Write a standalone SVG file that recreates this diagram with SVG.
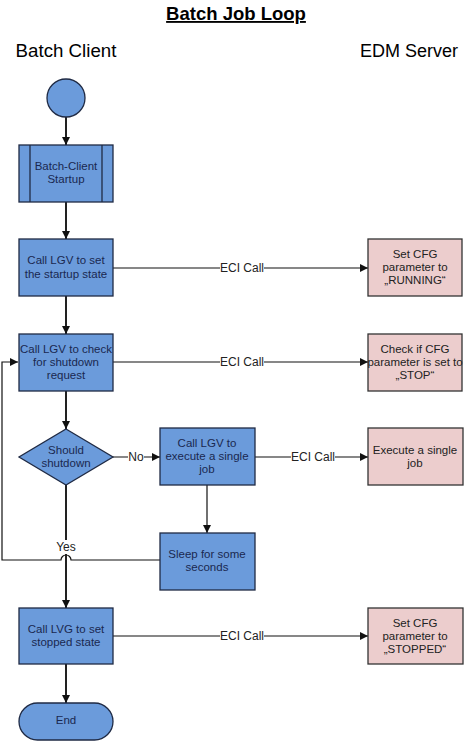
<svg xmlns="http://www.w3.org/2000/svg" width="467" height="741" viewBox="0 0 467 741">
<defs>
<style>
.t{font-family:"Liberation Sans",Arial,sans-serif}
.blue{fill:#6b9bdb;stroke:#1f2a44;stroke-width:1.3}
.pink{fill:#eccdcd;stroke:#333;stroke-width:1.3}
.bt{font-family:"Liberation Sans",Arial,sans-serif;font-size:11.5px;fill:#1a2850;text-anchor:middle}
.pt{font-family:"Liberation Sans",Arial,sans-serif;font-size:11.5px;fill:#222;text-anchor:middle}
.v{stroke:#222;stroke-width:2;fill:none}
.h{stroke:#111;stroke-width:1.2;fill:none}
.lbl{font-family:"Liberation Sans",Arial,sans-serif;font-size:12px;fill:#222;text-anchor:middle}
</style>
<marker id="ah" viewBox="0 0 10 10" refX="10" refY="5" markerWidth="10" markerHeight="8" markerUnits="userSpaceOnUse" orient="auto">
<path d="M0,0 L10,5 L0,10 z" fill="#111"/>
</marker>
</defs>
<rect width="467" height="741" fill="#fff"/>
<text class="t" x="236" y="20" font-size="18.5" font-weight="bold" text-anchor="middle" fill="#000" text-decoration="underline">Batch Job Loop</text>
<text class="t" x="66" y="57" font-size="18.7" text-anchor="middle" fill="#000">Batch Client</text>
<text class="t" x="409" y="57" font-size="18" text-anchor="middle" fill="#000">EDM Server</text>

<g id="connectors">
<path class="v" d="M66,117 V145" marker-end="url(#ah)"/>
<path class="v" d="M66,202 V239" marker-end="url(#ah)"/>
<path class="v" d="M66,296 V334" marker-end="url(#ah)"/>
<path class="v" d="M66,391 V429" marker-end="url(#ah)"/>
<path class="h" d="M113,268 H368" marker-end="url(#ah)"/>
<path class="h" d="M113,362 H368" marker-end="url(#ah)"/>
<path class="h" d="M113,457 H160" marker-end="url(#ah)"/>
<path class="h" d="M255,457 H368" marker-end="url(#ah)"/>
<path class="h" d="M207,485 V533" marker-end="url(#ah)"/>
<path class="h" stroke="#555" stroke-width="1.5" d="M160,560 H71 A5,5 0 0 0 61,560 H2 V362 H18" marker-end="url(#ah)"/>
<path class="v" stroke="#444" d="M66,485 V608" marker-end="url(#ah)"/>
<path class="h" d="M113,636 H368" marker-end="url(#ah)"/>
<path class="v" stroke="#444" d="M66,664 V703" marker-end="url(#ah)"/>
<rect x="220" y="261" width="44" height="14" fill="#fff"/>
<text class="lbl" x="242" y="272">ECI Call</text>
<rect x="220" y="355" width="44" height="14" fill="#fff"/>
<text class="lbl" x="242" y="366">ECI Call</text>
<rect x="291" y="450" width="44" height="14" fill="#fff"/>
<text class="lbl" x="313" y="461">ECI Call</text>
<rect x="220" y="629" width="44" height="14" fill="#fff"/>
<text class="lbl" x="242" y="640">ECI Call</text>
<rect x="128" y="450" width="16" height="14" fill="#fff"/>
<text class="lbl" x="136" y="461">No</text>
<rect x="55" y="540" width="22" height="14" fill="#fff"/>
<text class="lbl" x="66" y="551">Yes</text>
</g>

<g id="start"><circle cx="66" cy="98" r="19" class="blue"/></g>
<g id="startup">
<rect x="19" y="145" width="94" height="57" class="blue"/>
<line x1="30" y1="145" x2="30" y2="202" stroke="#1f2a44" stroke-width="1.3"/>
<line x1="102" y1="145" x2="102" y2="202" stroke="#1f2a44" stroke-width="1.3"/>
<text class="bt" x="66" y="170">Batch-Client</text>
<text class="bt" x="66" y="183">Startup</text>
</g>
<g id="setStartup">
<rect x="19" y="239" width="94" height="57" class="blue"/>
<text class="bt" x="66" y="264">Call LGV to set</text>
<text class="bt" x="66" y="278">the startup state</text>
</g>
<g id="checkShutdown">
<rect x="19" y="334" width="94" height="57" class="blue"/>
<text class="bt" x="66" y="353">Call LGV to check</text>
<text class="bt" x="66" y="366">for shutdown</text>
<text class="bt" x="66" y="379">request</text>
</g>
<g id="decision">
<path d="M66,429 L113,457 L66,485 L19,457 Z" class="blue"/>
<text class="bt" x="66" y="454">Should</text>
<text class="bt" x="66" y="467">shutdown</text>
</g>
<g id="execJob">
<rect x="160" y="428" width="95" height="57" class="blue"/>
<text class="bt" x="207" y="447">Call LGV to</text>
<text class="bt" x="207" y="460">execute a single</text>
<text class="bt" x="207" y="473">job</text>
</g>
<g id="sleep">
<rect x="160" y="533" width="95" height="57" class="blue"/>
<text class="bt" x="207" y="558">Sleep for some</text>
<text class="bt" x="207" y="571">seconds</text>
</g>
<g id="setStopped">
<rect x="19" y="608" width="94" height="56" class="blue"/>
<text class="bt" x="66" y="633">Call LVG to set</text>
<text class="bt" x="66" y="646">stopped state</text>
</g>
<g id="end">
<rect x="19" y="703" width="94" height="37" rx="18.5" ry="18.5" class="blue"/>
<text class="bt" x="66" y="724">End</text>
</g>
<g id="srvRunning">
<rect x="368" y="239" width="94" height="57" class="pink"/>
<text class="pt" x="415" y="258">Set CFG</text>
<text class="pt" x="415" y="271">parameter to</text>
<text class="pt" x="415" y="284">„RUNNING“</text>
</g>
<g id="srvStop">
<rect x="368" y="334" width="94" height="57" class="pink"/>
<text class="pt" x="415" y="353">Check if CFG</text>
<text class="pt" x="415" y="366">parameter is set to</text>
<text class="pt" x="415" y="379">„STOP“</text>
</g>
<g id="srvExec">
<rect x="368" y="428" width="95" height="57" class="pink"/>
<text class="pt" x="415" y="454">Execute a single</text>
<text class="pt" x="415" y="467">job</text>
</g>
<g id="srvStopped">
<rect x="368" y="608" width="95" height="56" class="pink"/>
<text class="pt" x="415" y="627">Set CFG</text>
<text class="pt" x="415" y="640">parameter to</text>
<text class="pt" x="415" y="653">„STOPPED“</text>
</g>
</svg>
